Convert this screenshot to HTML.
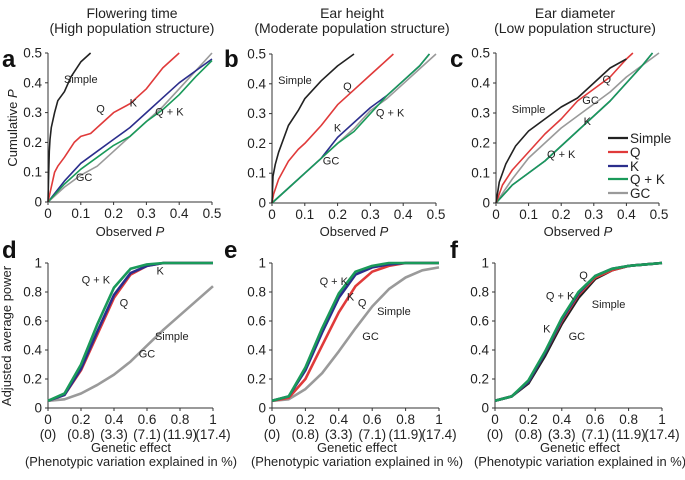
<!DOCTYPE html>
<html><head><meta charset="utf-8"><style>
body{margin:0;background:#fff;}
svg{display:block;font-family:"Liberation Sans",sans-serif;}
</style></head><body>
<svg id="fig" width="685" height="480"></svg>
<script>
const colors={Simple:'#222',Q:'#e03a3a',K:'#2b2e8c','Q + K':'#1a9a5a',GC:'#9a9a9a'};
const seriesNames=['Simple','Q','K','Q + K','GC'];
const topTicks=[0,0.1,0.2,0.3,0.4,0.5];
const botTicks=[0,0.2,0.4,0.6,0.8,1];
const botTickPct=['(0)','(0.8)','(3.3)','(7.1)','(11.9)','(17.4)'];
const xTen=[0,0.1,0.2,0.3,0.4,0.5,0.6,0.7,0.8,0.9,1];
const xTop=[0,0.05,0.1,0.15,0.2,0.25,0.3,0.35,0.4,0.45,0.5];
// panel a
const aSimpleX=[0,0.002,0.004,0.006,0.01,0.02,0.03,0.05,0.07,0.1,0.13];
const aSimpleY=[0,0.1,0.17,0.21,0.25,0.3,0.34,0.37,0.42,0.47,0.5];
const aQX=[0,0.01,0.02,0.03,0.05,0.08,0.1,0.13,0.16,0.2,0.25,0.3,0.35,0.4];
const aQY=[0,0.05,0.1,0.12,0.15,0.2,0.22,0.23,0.26,0.3,0.33,0.38,0.45,0.5];
const aKY=[0,0.07,0.13,0.17,0.21,0.25,0.3,0.35,0.4,0.44,0.48];
const aQKY=[0,0.06,0.11,0.15,0.19,0.22,0.27,0.31,0.36,0.42,0.475];
const aGCY=[0,0.05,0.09,0.12,0.17,0.22,0.27,0.32,0.38,0.44,0.5];
// panel b
const bSimpleX=[0,0.003,0.01,0.02,0.05,0.08,0.1,0.15,0.2,0.25];
const bSimpleY=[0,0.09,0.13,0.17,0.26,0.31,0.35,0.41,0.46,0.5];
const bQX=[0,0.005,0.02,0.05,0.08,0.1,0.15,0.2,0.25,0.3,0.35,0.37];
const bQY=[0,0.03,0.08,0.14,0.18,0.2,0.26,0.33,0.38,0.43,0.48,0.5];
const bKX=[0,0.05,0.1,0.15,0.2,0.25,0.3,0.35,0.4,0.45,0.48];
const bKY=[0,0.05,0.1,0.15,0.22,0.27,0.32,0.36,0.41,0.46,0.5];
const bQKY=[0,0.05,0.1,0.15,0.2,0.24,0.3,0.36,0.41,0.46,0.5];
const bGCY=[0,0.05,0.1,0.15,0.2,0.25,0.31,0.35,0.4,0.45,0.5];
// panel c
const cSimpleX=[0,0.01,0.03,0.06,0.1,0.15,0.2,0.25,0.3,0.35,0.4];
const cSimpleY=[0,0.07,0.13,0.19,0.24,0.28,0.32,0.35,0.4,0.45,0.48];
const cQX=[0,0.02,0.05,0.1,0.15,0.2,0.25,0.3,0.35,0.4,0.42];
const cQY=[0,0.06,0.11,0.17,0.23,0.28,0.34,0.38,0.42,0.48,0.5];
const cKX=[0,0.05,0.1,0.15,0.2,0.25,0.3,0.35,0.4,0.45,0.48];
const cKY=[0,0.06,0.1,0.14,0.19,0.24,0.29,0.34,0.4,0.46,0.5];
const cQKY=[0,0.06,0.1,0.14,0.19,0.24,0.29,0.34,0.4,0.46,0.5];
const cGCY=[0,0.08,0.15,0.2,0.25,0.29,0.33,0.37,0.42,0.46,0.5];
// panel d
const dSimpleY=[0.05,0.06,0.1,0.16,0.23,0.32,0.43,0.54,0.64,0.74,0.84];
const dQY=[0.05,0.09,0.26,0.51,0.76,0.92,0.98,1,1,1,1];
const dKY=[0.05,0.09,0.27,0.53,0.78,0.93,0.98,1,1,1,1];
const dQKY=[0.05,0.1,0.3,0.58,0.83,0.96,0.99,1,1,1,1];
const dGCY=[0.05,0.06,0.1,0.16,0.23,0.32,0.43,0.54,0.64,0.74,0.84];
// panel e
const eSimpleY=[0.05,0.06,0.13,0.24,0.39,0.55,0.7,0.82,0.9,0.95,0.97];
const eQY=[0.05,0.07,0.2,0.43,0.66,0.84,0.94,0.98,1,1,1];
const eKY=[0.05,0.08,0.26,0.52,0.76,0.92,0.97,0.99,1,1,1];
const eQKY=[0.05,0.08,0.28,0.55,0.79,0.94,0.98,1,1,1,1];
const eGCY=[0.05,0.06,0.13,0.24,0.39,0.55,0.7,0.82,0.9,0.95,0.97];
// panel f
const fSimpleY=[0.05,0.08,0.17,0.36,0.58,0.76,0.89,0.95,0.98,0.99,1];
const fQY=[0.05,0.08,0.18,0.38,0.6,0.78,0.9,0.95,0.98,0.99,1];
const fKY=[0.05,0.08,0.18,0.38,0.61,0.79,0.91,0.96,0.98,0.99,1];
const fQKY=[0.05,0.08,0.19,0.39,0.62,0.8,0.91,0.96,0.98,0.99,1];
const fGCY=[0.05,0.08,0.17,0.36,0.58,0.76,0.89,0.95,0.98,0.99,1];

const NS='http://www.w3.org/2000/svg';
const svg=document.getElementById('fig');
function el(tag,attrs,parent){const e=document.createElementNS(NS,tag);for(const k in attrs)e.setAttribute(k,attrs[k]);(parent||svg).appendChild(e);return e;}
function txt(x,y,s,size,anchor,parent,extra){const t=el('text',Object.assign({x:x,y:y,'font-size':size,'text-anchor':anchor||'middle',fill:'#222'},extra||{}),parent);t.textContent=s;return t;}

function panel(id,x0,x1,y0,y1,xmax,ymax,xt,yt,series,labels,bottom){
  const g=el('g',{});
  
  
  const sx=v=>x0+(x1-x0)*v/xmax, sy=v=>y0-(y0-y1)*v/ymax;
  const ax=el('path',{d:`M${x0},${y1}V${y0}H${x1}`,stroke:'#333',fill:'none','stroke-width':1},g);
  
  
  xt.forEach((v,i)=>{el('line',{x1:sx(v),x2:sx(v),y1:y0,y2:y0+3,stroke:'#333'},g);
    const t=txt(sx(v),y0+16,String(v),13.5,'middle',g);
    
    
    if(bottom){const p=txt(sx(v),y0+31,botTickPct[i],13.5,'middle',g);
      
      }
  });
  yt.forEach(v=>{el('line',{x1:x0-3,x2:x0,y1:sy(v),y2:sy(v),stroke:'#333'},g);
    const t=txt(x0-6,sy(v)+4.5,String(v),13.5,'end',g);
    
    });
  series.forEach(s=>{
    const d=s.x.map((v,i)=>(i?'L':'M')+sx(v).toFixed(1)+','+sy(s.y[i]).toFixed(1)).join('');
    const p=el('path',{d:d,stroke:colors[s.n],fill:'none','stroke-width':bottom?2.6:1.6,'stroke-linejoin':'round'},g);
    
    
  });
  labels.forEach(l=>{const t=txt(sx(l[1]),sy(l[2]),l[0],11,'middle',g);
    
    });
}
function S(n,x,y){return {n:n,x:x,y:y};}
panel('a',48,212,202,53,0.5,0.5,topTicks,topTicks,[
 S('GC',xTop,aGCY),S('K',xTop,aKY),S('Q + K',xTop,aQKY),S('Q',aQX,aQY),S('Simple',aSimpleX,aSimpleY)],
 [['Simple',0.1,0.4],['Q',0.16,0.3],['K',0.26,0.32],['Q + K',0.37,0.29],['GC',0.11,0.07]],false);
panel('b',272,436,203,54,0.5,0.5,topTicks,topTicks,[
 S('GC',xTop,bGCY),S('K',bKX,bKY),S('Q + K',bKX,bQKY),S('Q',bQX,bQY),S('Simple',bSimpleX,bSimpleY)],
 [['Simple',0.07,0.4],['Q',0.23,0.38],['K',0.2,0.24],['Q + K',0.36,0.29],['GC',0.18,0.13]],false);
panel('c',496,659,203,53,0.5,0.5,topTicks,topTicks,[
 S('GC',xTop,cGCY),S('K',cKX,cKY),S('Q + K',cKX,cQKY),S('Q',cQX,cQY),S('Simple',cSimpleX,cSimpleY)],
 [['Simple',0.1,0.3],['Q',0.34,0.4],['GC',0.29,0.33],['K',0.28,0.26],['Q + K',0.2,0.15]],false);
panel('d',48,213,408,263,1,1,botTicks,botTicks,[
 S('GC',xTen,dGCY),S('Q',xTen,dQY),S('K',xTen,dKY),S('Q + K',xTen,dQKY)],
 [['Q + K',0.29,0.86],['K',0.68,0.92],['Q',0.46,0.7],['Simple',0.75,0.47],['GC',0.6,0.35]],true);
panel('e',272,439,408,263,1,1,botTicks,botTicks,[
 S('GC',xTen,eGCY),S('Q',xTen,eQY),S('K',xTen,eKY),S('Q + K',xTen,eQKY)],
 [['Q + K',0.37,0.85],['K',0.47,0.74],['Q',0.54,0.7],['Simple',0.73,0.64],['GC',0.59,0.47]],true);
panel('f',495,662,408,263,1,1,botTicks,botTicks,[
 S('GC',xTen,fGCY),S('Simple',xTen,fSimpleY),S('Q',xTen,fQY),S('K',xTen,fKY),S('Q + K',xTen,fQKY)],
 [['Q',0.53,0.89],['Q + K',0.39,0.75],['Simple',0.68,0.69],['K',0.31,0.52],['GC',0.49,0.47]],true);

// titles
[[132,'Flowering time','(High population structure)'],[352,'Ear height','(Moderate population structure)'],[575,'Ear diameter','(Low population structure)']].forEach(t=>{
  const a=txt(t[0],18,t[1],14);
  const b=txt(t[0],33,t[2],14);
});
// panel letters
[['a',2,67],['b',224,67],['c',450,67],['d',2,258],['e',224,258],['f',450,258]].forEach(l=>{
  const t=txt(l[1],l[2],l[0],24,'start',null,{'font-weight':'bold',fill:'#111'});
  
  
});
// axis titles
[130,354,578].forEach(x=>{const t=txt(x,236,'',13);t.innerHTML='Observed <tspan font-style="italic">P</tspan>';
  });
[131,357,580].forEach(x=>{
  const a=txt(x,452,'Genetic effect',13);
  const b=txt(x,466,'(Phenotypic variation explained in %)',13,'middle',null,{textLength:212,lengthAdjust:'spacingAndGlyphs'});
});
const yt1=txt(0,0,'',13,'middle',null,{transform:'translate(17,128) rotate(-90)'});yt1.innerHTML='Cumulative <tspan font-style="italic">P</tspan>';

const yt2=txt(0,0,'Adjusted average power',13,'middle',null,{transform:'translate(11,336) rotate(-90)'});

// legend
const lg=el('g',{});
[138,152,166,179,193].forEach((y,i)=>{
  const n=seriesNames[i];
  const ln=el('line',{x1:608,x2:628,y1:y,y2:y,stroke:colors[n],'stroke-width':2.2},lg);
  
  const t=txt(630,y+5,n,13.5,'start',lg);
});
</script>
</body></html>
